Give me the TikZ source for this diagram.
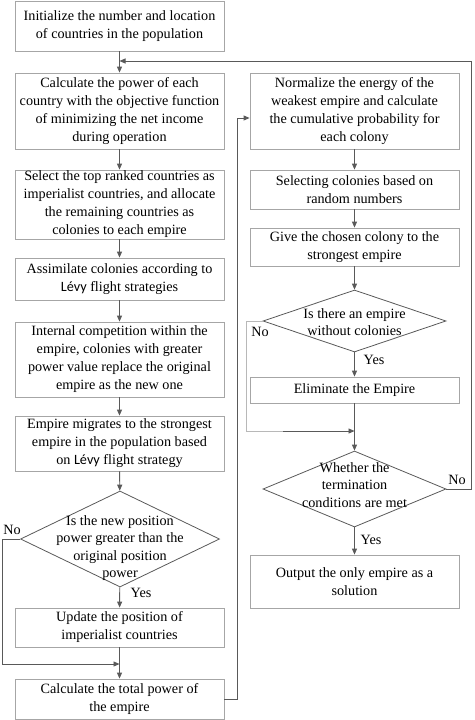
\documentclass[tikz,border=0pt]{standalone}
\usepackage{fontspec}
\setmainfont{Liberation Serif}
\newfontfamily\levyfont{Carlito}
\usetikzlibrary{arrows.meta,shapes.geometric}

\definecolor{boxgray}{HTML}{A6A6A6}
\definecolor{linegray}{HTML}{595959}
\definecolor{loopgray}{HTML}{B8B8B8}

\tikzset{
  stepbox/.style={draw=boxgray, line width=0.8pt, rectangle, minimum width=209pt,
    align=center, inner sep=0pt, font=\fontsize{14.2}{18}\selectfont},
  decide/.style={draw=linegray, line width=0.8pt, diamond, inner sep=0pt},
  decidetext/.style={align=center, inner sep=0pt, font=\fontsize{14.2}{17.5}\selectfont},
  flow/.style={draw=linegray, line width=0.9pt, -{Triangle[length=6pt,width=5pt]}},
  plain/.style={draw=linegray, line width=0.9pt},
  faint/.style={draw=loopgray, line width=0.9pt},
  answer/.style={inner sep=0pt, font=\fontsize{14.2}{16}\selectfont}
}

\begin{document}
\begin{tikzpicture}[x=1pt,y=-1pt]
    \useasboundingbox (0,0) rectangle (474,720);

    % Left column
    \node[stepbox, minimum height=50pt] (init) at (119.5,26) {Initialize the number and location\\of countries in the population};
    \node[stepbox, minimum height=76pt] (power) at (119.5,111) {Calculate the power of each\\country with the objective function\\of minimizing the net income\\during operation};
    \node[stepbox, minimum height=69pt] (select) at (119.5,204.5) {Select the top ranked countries as\\imperialist countries, and allocate\\the remaining countries as\\colonies to each empire};
    \node[stepbox, minimum height=42pt] (assim) at (119.5,279) {Assimilate colonies according to\\{\levyfont Lévy} flight strategies};
    \node[stepbox, minimum height=75pt] (compete) at (119.5,359.5) {Internal competition within the\\empire, colonies with greater\\power value replace the original\\empire as the new one};
    \node[stepbox, minimum height=55pt] (migrate) at (119.5,443.5) {Empire migrates to the strongest\\empire in the population based\\on {\levyfont Lévy} flight strategy};
    \node[decide, minimum width=199pt, minimum height=96pt] (greater) at (120,539) {};
    \node[decidetext] (greatertext) at (120,548) {Is the new position\\power greater than the\\original position\\power};
    \node[stepbox, minimum height=39pt] (update) at (119.5,627.5) {Update the position of\\imperialist countries};
    \node[stepbox, minimum height=40pt] (total) at (119.5,699) {Calculate the total power of\\the empire};

    % Right column
    \node[stepbox, minimum height=76pt] (norm) at (354.5,111) {Normalize the energy of the\\weakest empire and calculate\\the cumulative probability for\\each colony};
    \node[stepbox, minimum height=39pt] (pick) at (354.5,189.5) {Selecting colonies based on\\random numbers};
    \node[stepbox, minimum height=38pt] (give) at (354.5,247) {Give the chosen colony to the\\strongest empire};
    \node[decide, minimum width=183pt, minimum height=62pt] (nocol) at (354.5,321) {};
    \node[decidetext] (nocoltext) at (354.5,322) {Is there an empire\\without colonies};
    \node[stepbox, minimum height=26pt] (elim) at (354.5,390) {Eliminate the Empire};
    \node[decide, minimum width=183pt, minimum height=76pt] (stop) at (354.5,489) {};
    \node[decidetext] (stoptext) at (354.5,485) {Whether the\\termination\\conditions are met};
    \node[stepbox, minimum height=53pt] (output) at (354.5,581.5) {Output the only empire as a\\solution};

    % Merge points
    \coordinate (back) at (119.5,61);
    \coordinate (skip) at (119.5,664);
    \coordinate (join) at (354.5,431);
    \coordinate (cross) at (237,118);

    % Left flow
    \draw[plain] (init) -- (back);
    \draw[flow] (back) -- (power);
    \draw[flow] (power) -- (select);
    \draw[flow] (select) -- (assim);
    \draw[flow] (assim) -- (compete);
    \draw[flow] (compete) -- (migrate);
    \draw[flow] (migrate) -- (greater);
    \draw[flow] (greater) -- (update);
    \draw[plain] (update) -- (skip);
    \draw[flow] (skip) -- (total);
    \draw[flow] (greater.west) -- (2,539) -- (2,664) -- (skip);

    % Over to the right column
    \draw[flow] (total.east |- 0,699) -| (cross) -- (cross -| norm.west);

    % Right flow
    \draw[flow] (norm) -- (pick);
    \draw[flow] (pick) -- (give);
    \draw[flow] (give) -- (nocol);
    \draw[flow] (nocol) -- (elim);
    \draw[plain] (elim) -- (join);
    \draw[flow] (join) -- (stop);
    \draw[flow] (stop) -- (output);
    \draw[faint] (nocol.west) -- (246,321) -- (246,431) -- (283,431);
    \draw[flow] (283,431) -- (join);
    \draw[flow] (stop.east) -- (471,489) -- (471,61) -- (back);

    % Answers
    \node[answer] (no1) at (12,530) {No};
    \node[answer] (yes1) at (141,593) {Yes};
    \node[answer] (no2) at (260,332) {No};
    \node[answer] (yes2) at (374,360) {Yes};
    \node[answer] (no3) at (457,480) {No};
    \node[answer] (yes3) at (371,540) {Yes};
\end{tikzpicture}
\end{document}
